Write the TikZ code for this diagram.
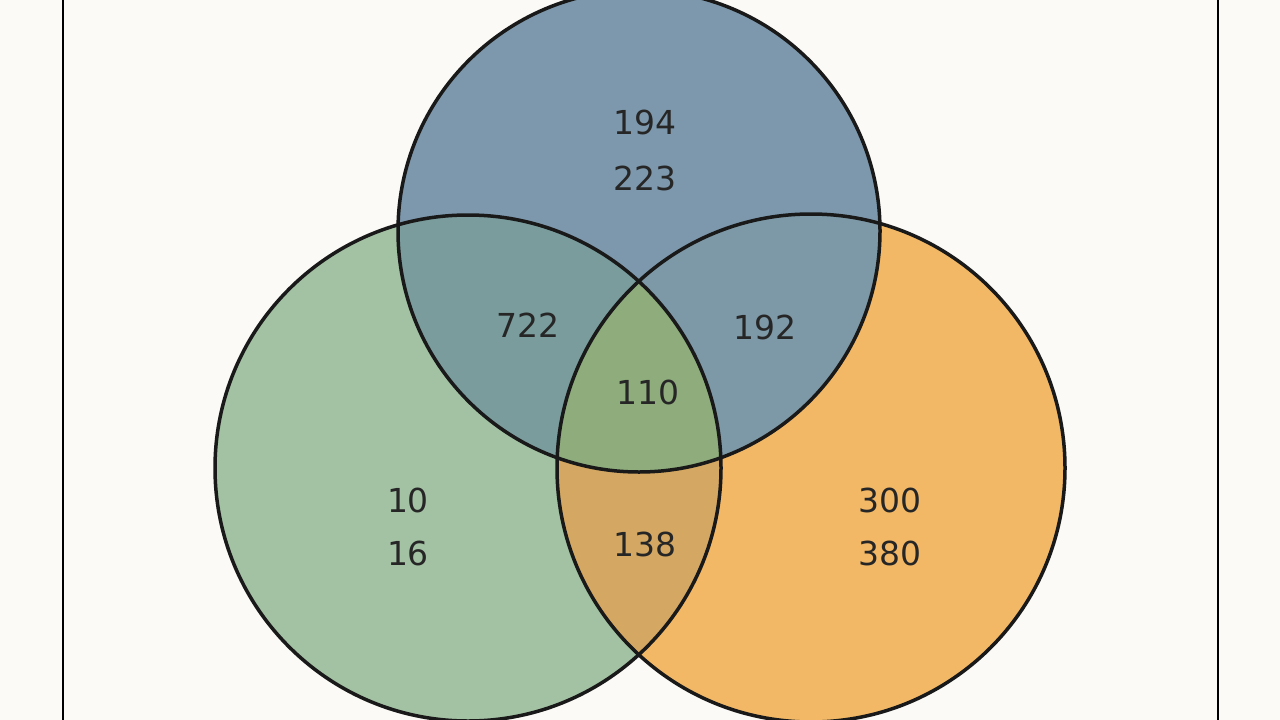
\documentclass[tikz,border=0pt]{standalone}
\usepackage{fontspec}
\setmainfont{DejaVu Sans}
\begin{document}
\begin{tikzpicture}[x=1pt,y=-1pt,
  lab/.style={font=\fontsize{33}{36}\selectfont, text=black!85},
  ring/.style={draw=black!90, line width=3.5pt}]
\definecolor{bg}{HTML}{FBFAF6}
\definecolor{cB}{HTML}{7D98AC}
\definecolor{cG}{HTML}{A3C1A3}
\definecolor{cO}{HTML}{F2B866}
\definecolor{cBG}{HTML}{7A9C9C}
\definecolor{cBO}{HTML}{7D98A6}
\definecolor{cGO}{HTML}{D4A862}
\definecolor{cA}{HTML}{8EAC7C}
\fill[bg] (0,0) rectangle (1280,720);
\useasboundingbox (0,0) rectangle (1280,720);
\draw[line width=2.5pt] (63,-10) rectangle (1218,730);
\def\B{(639,231) circle (241)}
\def\G{(468,468) circle (253)}
\def\O{(811,468) circle (254)}
\fill[cB] \B; \fill[cG] \G; \fill[cO] \O;
\begin{scope}\clip \B; \fill[cBG] \G; \fill[cBO] \O; \end{scope}
\begin{scope}\clip \G; \fill[cGO] \O; \end{scope}
\begin{scope}\clip \B; \clip \G; \fill[cA] \O; \end{scope}
\node[ring,circle,minimum size=482pt] (b) at (639,231) {};
\node[ring,circle,minimum size=506pt] (g) at (468,468) {};
\node[ring,circle,minimum size=508pt] (o) at (811,468) {};
\node[lab] (t1) at (645,122) {194};
\node[lab] (t2) at (645,178) {223};
\node[lab] (t3) at (528,325) {722};
\node[lab] (t4) at (765,327) {192};
\node[lab] (t5) at (648,392) {110};
\node[lab] (t6) at (408,500) {10};
\node[lab] (t7) at (408,553) {16};
\node[lab] (t8) at (645,544) {138};
\node[lab] (t9) at (890,500) {300};
\node[lab] (t10) at (890,553) {380};
\end{tikzpicture}
\end{document}
